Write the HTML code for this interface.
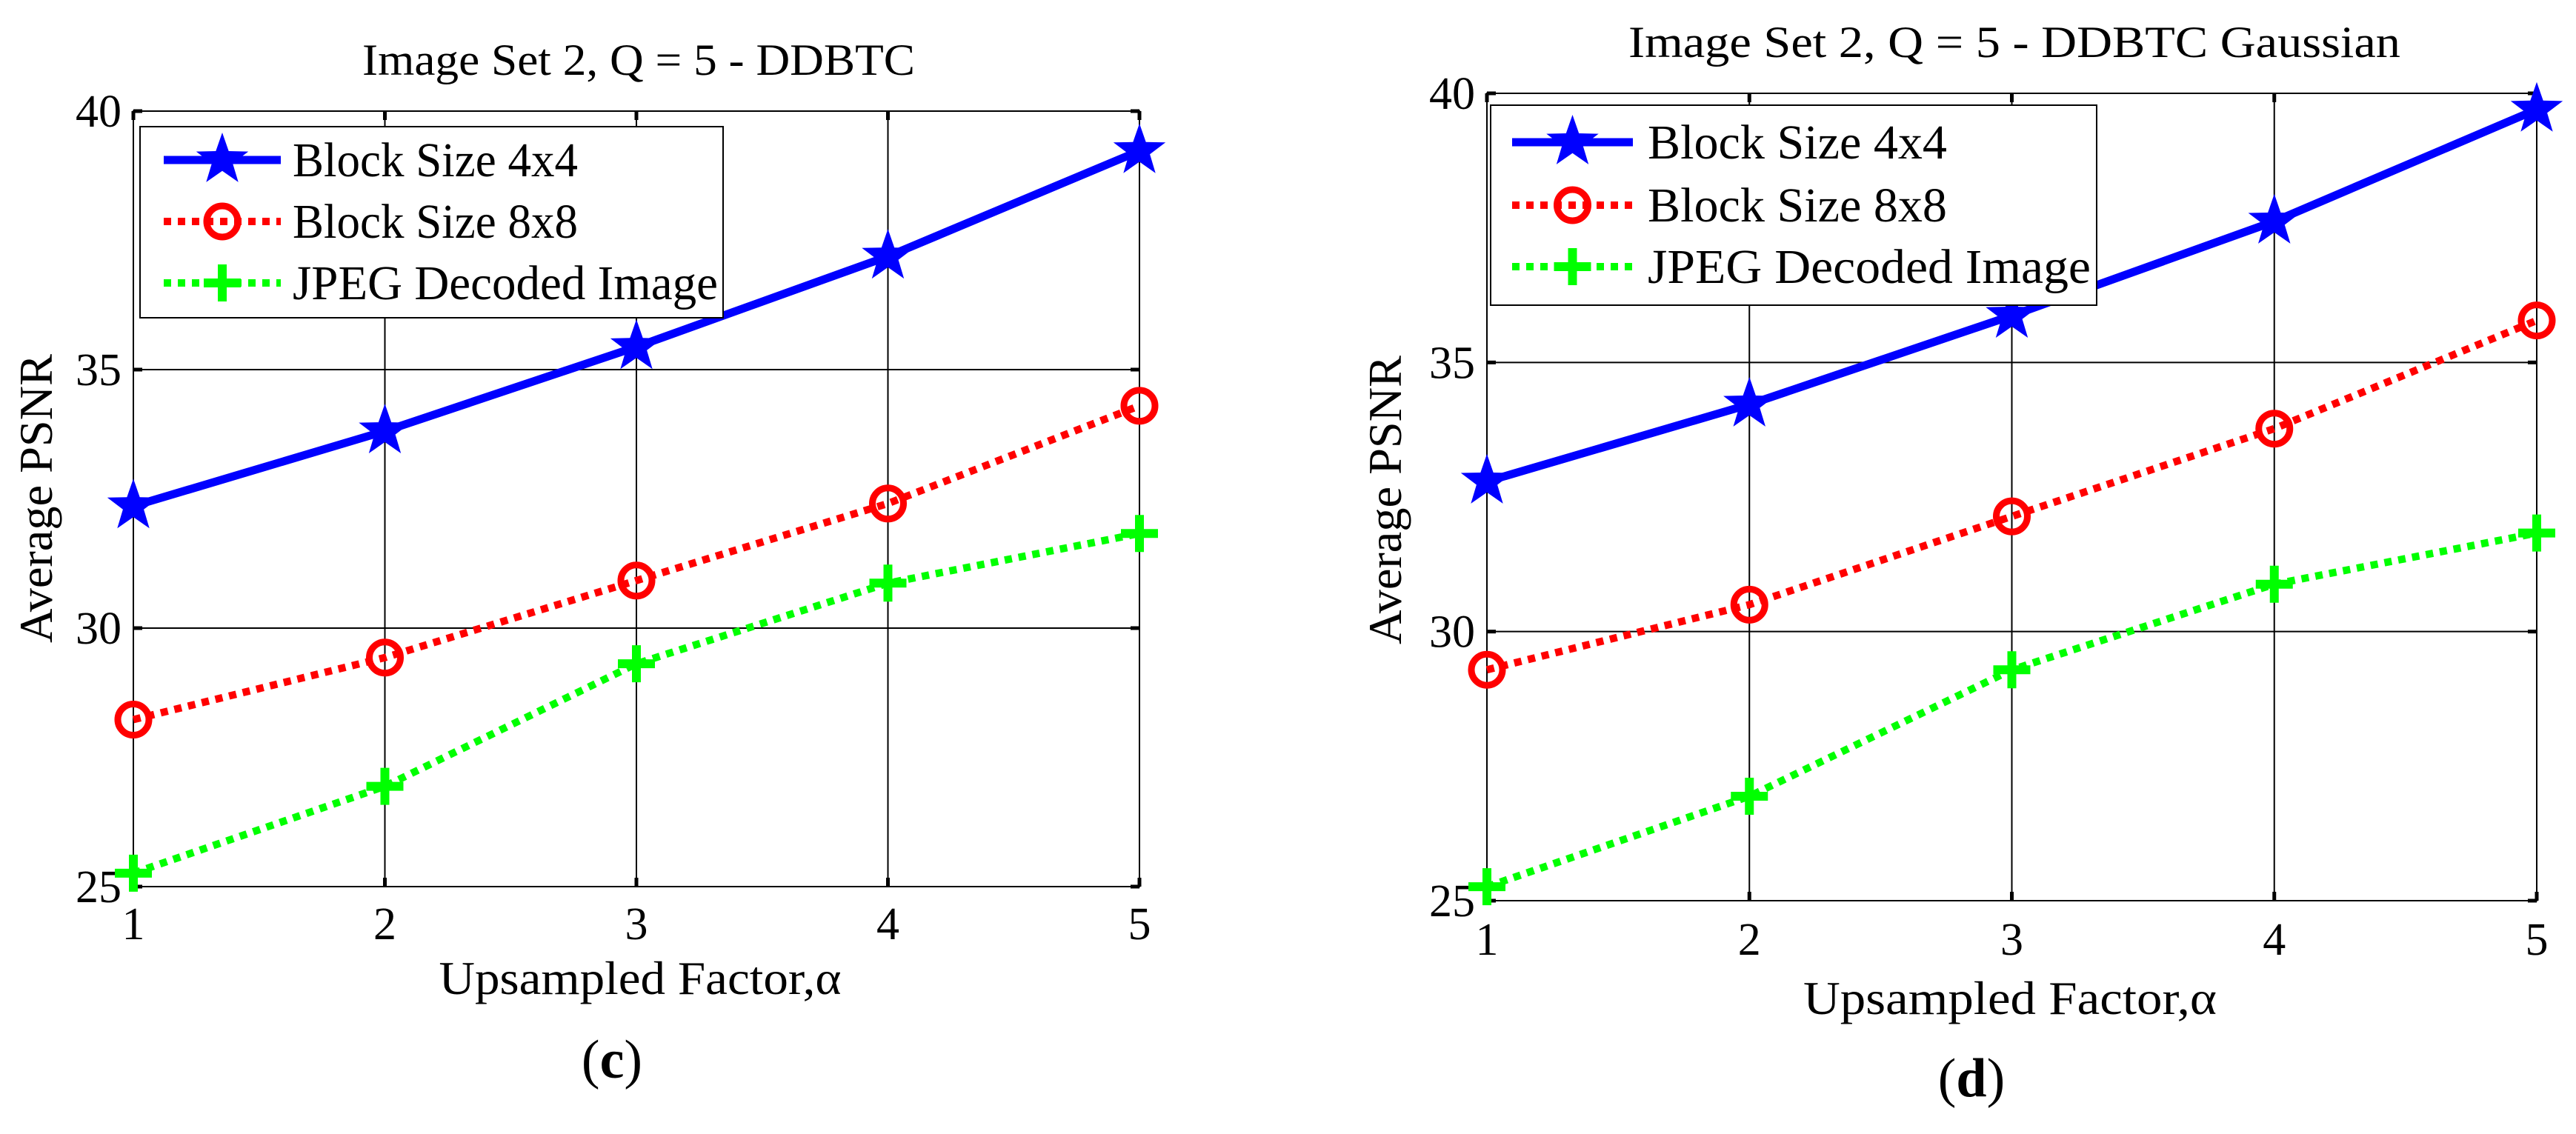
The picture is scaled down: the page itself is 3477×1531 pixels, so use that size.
<!DOCTYPE html>
<html><head><meta charset="utf-8"><style>
html,body{margin:0;padding:0;background:#fff;}
svg{display:block;}
svg text{font-family:"Liberation Serif","Times New Roman",serif;fill:#000;}
</style></head><body>
<svg id="fig" width="3477" height="1531" viewBox="0 0 3477 1531" xmlns="http://www.w3.org/2000/svg" font-family="Liberation Serif, serif"></svg>
<script>
const categories=[1,2,3,4,5];
const yTicks=[25,30,35,40];
const seriesNames=["Block Size 4x4","Block Size 8x8","JPEG Decoded Image"];
const c_block4=[32.36,33.81,35.44,37.19,39.23];
const c_block8=[28.23,29.43,30.92,32.41,34.30];
const c_jpeg=[25.26,26.94,29.31,30.87,31.83];
const d_block4=[32.79,34.22,35.87,37.62,39.70];
const d_block8=[29.29,30.50,32.14,33.77,35.78];
const d_jpeg=[25.26,26.94,29.29,30.88,31.83];

const NS="http://www.w3.org/2000/svg";
const FF="'Liberation Serif', 'Times New Roman', serif";
const svg=document.getElementById('fig');
function mk(tag,attrs,parent){const e=document.createElementNS(NS,tag);for(const k in attrs)e.setAttribute(k,attrs[k]);if(tag==='text'){e.setAttribute('font-family',FF);e.style.fontFamily=FF;}(parent||svg).appendChild(e);return e;}
function starPts(cx,cy,R){const r=R*0.4;let p=[];for(let i=0;i<10;i++){const a=-Math.PI/2+i*Math.PI/5;const rr=i%2?r:R;p.push((cx+rr*Math.cos(a)).toFixed(1)+','+(cy+rr*Math.sin(a)).toFixed(1));}return p.join(' ');}
function marker(g,type,x,y){
  let m;
  if(type===0){m=mk('polygon',{points:starPts(x,y,37),fill:'#0000ff'},g);}
  else if(type===1){m=mk('circle',{cx:x,cy:y,r:21,fill:'none',stroke:'#ff0000','stroke-width':9},g);}
  else{m=mk('path',{d:`M${x-25},${y}H${x+25}M${x},${y-25}V${y+25}`,stroke:'#00ff00','stroke-width':12,fill:'none'},g);}
  
  
}
const colors=['#0000ff','#ff0000','#00ff00'];
function styleLine(el,i){el.setAttribute('stroke',colors[i]);el.setAttribute('fill','none');
  if(i===0){el.setAttribute('stroke-width',11);}else{el.setAttribute('stroke-width',10);el.setAttribute('stroke-dasharray','10 9');}}

function chart(o){
  const g=mk('g',{});
  
  
  const X=v=>o.x0+(v-1)/4*(o.x1-o.x0);
  const Y=v=>o.y1-(v-25)/15*(o.y1-o.y0);
  categories.forEach(c=>{const l=mk('line',{x1:X(c),x2:X(c),y1:o.y0,y2:o.y1,stroke:'#000','stroke-width':2},g);
    
    mk('line',{x1:X(c),x2:X(c),y1:o.y1,y2:o.y1-12,stroke:'#000','stroke-width':5},g);
    mk('line',{x1:X(c),x2:X(c),y1:o.y0,y2:o.y0+12,stroke:'#000','stroke-width':5},g);
    const t=mk('text',{x:X(c),y:o.xtY,'font-size':62,'text-anchor':'middle'},g);t.textContent=c;
    });
  yTicks.forEach(v=>{const l=mk('line',{x1:o.x0,x2:o.x1,y1:Y(v),y2:Y(v),stroke:'#000','stroke-width':2},g);
    
    mk('line',{x1:o.x0,x2:o.x0+12,y1:Y(v),y2:Y(v),stroke:'#000','stroke-width':5},g);
    mk('line',{x1:o.x1,x2:o.x1-12,y1:Y(v),y2:Y(v),stroke:'#000','stroke-width':5},g);
    const t=mk('text',{x:o.x0-16,y:Y(v)+21,'font-size':62,'text-anchor':'end'},g);t.textContent=v;
    });
  const box=mk('rect',{x:o.x0,y:o.y0,width:o.x1-o.x0,height:o.y1-o.y0,fill:'none',stroke:'#000','stroke-width':2},g);
  
  o.series.forEach((s,i)=>{
    const pl=mk('polyline',{points:s.map((v,k)=>X(categories[k])+','+Y(v)).join(' ')},g);
    styleLine(pl,i);
    
    
  });
  o.series.forEach((s,i)=>s.forEach((v,k)=>marker(g,i,X(categories[k]),Y(v))));
  const lg=mk('g',{},g);
  
  
  mk('rect',{x:o.lg.x,y:o.lg.y,width:o.lg.w,height:o.lg.h,fill:'#fff',stroke:'#000','stroke-width':2},lg);
  seriesNames.forEach((n,i)=>{
    const ly=o.lg.rows[i];
    const e=mk('g',{},lg);
    
    
    const ln=mk('line',{x1:o.lg.lx0,x2:o.lg.lx1,y1:ly,y2:ly},e);styleLine(ln,i);
    marker(e,i,(o.lg.lx0+o.lg.lx1)/2,ly);
    const t=mk('text',{x:o.lg.tx,y:ly+22,'font-size':66,textLength:o.lg.tw[i],lengthAdjust:'spacingAndGlyphs'},e);t.textContent=n;
  });
  const tt=mk('text',{x:o.title.x,y:o.title.y,'font-size':60,'text-anchor':'middle',textLength:o.title.w,lengthAdjust:'spacingAndGlyphs'},g);tt.textContent=o.title.t;
  
  const xl=mk('text',{x:o.xl.x,y:o.xl.y,'font-size':64,'text-anchor':'middle',textLength:o.xl.w,lengthAdjust:'spacingAndGlyphs'},g);xl.textContent='Upsampled Factor,\u03B1';
  
  const yl=mk('text',{x:0,y:0,'font-size':64,'text-anchor':'middle',textLength:390,lengthAdjust:'spacingAndGlyphs',transform:`translate(${o.yl.x},${o.yl.y}) rotate(-90)`},g);yl.textContent='Average PSNR';
  
  const cap=mk('text',{x:o.cap.x,y:o.cap.y,'font-size':74,'text-anchor':'middle'},g);
  
  cap.appendChild(document.createTextNode('('));
  const b=document.createElementNS(NS,'tspan');b.setAttribute('font-weight','bold');b.textContent=o.cap.t;cap.appendChild(b);
  cap.appendChild(document.createTextNode(')'));
}
chart({name:'chart-c',x0:180,x1:1538,y0:150,y1:1197,xtY:1268,series:[c_block4,c_block8,c_jpeg],
  lg:{x:189,y:171,w:787,h:258,rows:[216,299,382],lx0:221,lx1:379,tx:395,tw:[385,385,574]},
  title:{t:'Image Set 2, Q = 5 - DDBTC',x:862,y:101,w:746},
  xl:{x:864,y:1342,w:543},yl:{x:70,y:673},cap:{x:826,y:1455,t:'c'}});
chart({name:'chart-d',x0:2007,x1:3424,y0:126,y1:1216,xtY:1289,series:[d_block4,d_block8,d_jpeg],
  lg:{x:2012,y:142,w:818,h:270,rows:[192,277,360],lx0:2041,lx1:2204,tx:2224,tw:[404,404,598]},
  title:{t:'Image Set 2, Q = 5 - DDBTC Gaussian',x:2719,y:77,w:1042},
  xl:{x:2713,y:1369,w:558},yl:{x:1891,y:675},cap:{x:2661,y:1480,t:'d'}});
</script>
</body></html>
